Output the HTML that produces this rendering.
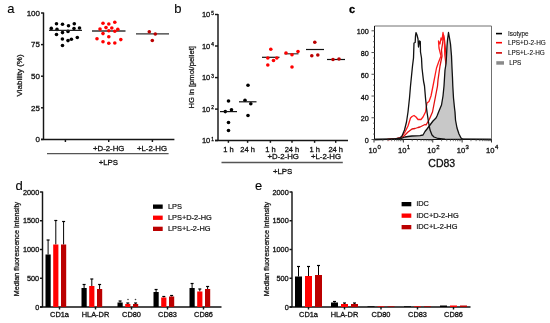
<!DOCTYPE html>
<html><head><meta charset="utf-8"><style>
html,body{margin:0;padding:0;background:#fff;width:550px;height:323px;overflow:hidden}
svg{display:block;font-family:'Liberation Sans',sans-serif}
text{filter:grayscale(1);stroke:currentColor;stroke-width:0.3px}
</style></head><body>
<svg width="550" height="323" viewBox="0 0 550 323">
<rect width="550" height="323" fill="#fff"/>
<text x="7.2" y="13" font-size="13" text-anchor="start" fill="#000" color="#000" style="stroke-width:0.1px" >a</text>
<line x1="43.5" y1="12.5" x2="43.5" y2="139.9" stroke="#151515" stroke-width="1.45"/>
<line x1="41" y1="13.0" x2="43.5" y2="13.0" stroke="#151515" stroke-width="1.45"/>
<text x="40" y="15.8" font-size="8" text-anchor="end" fill="#111" color="#111" >100</text>
<line x1="41" y1="44.6" x2="43.5" y2="44.6" stroke="#151515" stroke-width="1.45"/>
<text x="40" y="47.4" font-size="8" text-anchor="end" fill="#111" color="#111" >75</text>
<line x1="41" y1="76.2" x2="43.5" y2="76.2" stroke="#151515" stroke-width="1.45"/>
<text x="40" y="79.0" font-size="8" text-anchor="end" fill="#111" color="#111" >50</text>
<line x1="41" y1="107.8" x2="43.5" y2="107.8" stroke="#151515" stroke-width="1.45"/>
<text x="40" y="110.6" font-size="8" text-anchor="end" fill="#111" color="#111" >25</text>
<line x1="41" y1="139.4" x2="43.5" y2="139.4" stroke="#151515" stroke-width="1.45"/>
<text x="40" y="142.20000000000002" font-size="8" text-anchor="end" fill="#111" color="#111" >0</text>
<line x1="41" y1="139.4" x2="174.4" y2="139.4" stroke="#151515" stroke-width="1.45"/>
<line x1="65.4" y1="139.4" x2="65.4" y2="142" stroke="#151515" stroke-width="1.45"/>
<line x1="108.7" y1="139.4" x2="108.7" y2="142" stroke="#151515" stroke-width="1.45"/>
<line x1="152.4" y1="139.4" x2="152.4" y2="142" stroke="#151515" stroke-width="1.45"/>
<text x="108.7" y="151" font-size="7.8" text-anchor="middle" fill="#111" color="#111" >+D-2-HG</text>
<text x="152" y="151" font-size="7.8" text-anchor="middle" fill="#111" color="#111" >+L-2-HG</text>
<line x1="47" y1="153.6" x2="168.6" y2="153.6" stroke="#555" stroke-width="1.45"/>
<text x="108.3" y="165" font-size="7.8" text-anchor="middle" fill="#111" color="#111" >+LPS</text>
<text transform="translate(22.3,75.4) rotate(-90)" font-size="8" text-anchor="middle" fill="#151515" style="stroke-width:0.28px" color="#151515">Viability (%)</text>
<circle cx="51.3" cy="28.4" r="1.8" fill="#000"/>
<circle cx="56.5" cy="23.8" r="1.8" fill="#000"/>
<circle cx="62.5" cy="24.3" r="1.8" fill="#000"/>
<circle cx="68.5" cy="25.8" r="1.8" fill="#000"/>
<circle cx="74.3" cy="23.8" r="1.8" fill="#000"/>
<circle cx="79.5" cy="28" r="1.8" fill="#000"/>
<circle cx="57" cy="29.4" r="1.8" fill="#000"/>
<circle cx="74" cy="28.6" r="1.8" fill="#000"/>
<circle cx="62.5" cy="32.6" r="1.8" fill="#000"/>
<circle cx="68" cy="31.4" r="1.8" fill="#000"/>
<circle cx="56.5" cy="34.5" r="1.8" fill="#000"/>
<circle cx="62.4" cy="39" r="1.8" fill="#000"/>
<circle cx="68" cy="40.6" r="1.8" fill="#000"/>
<circle cx="71.4" cy="39.3" r="1.8" fill="#000"/>
<circle cx="77.3" cy="37.5" r="1.8" fill="#000"/>
<circle cx="62.5" cy="45.5" r="1.8" fill="#000"/>
<line x1="49" y1="30.4" x2="82" y2="30.4" stroke="#222" stroke-width="1.3"/>
<line x1="92" y1="31" x2="125.5" y2="31" stroke="#333" stroke-width="1.3"/>
<circle cx="103" cy="23.3" r="1.8" fill="#ff0000"/>
<circle cx="108.8" cy="24" r="1.8" fill="#ff0000"/>
<circle cx="114.8" cy="22.3" r="1.8" fill="#ff0000"/>
<circle cx="106" cy="27.6" r="1.8" fill="#ff0000"/>
<circle cx="111.8" cy="28" r="1.8" fill="#ff0000"/>
<circle cx="100" cy="29.1" r="1.8" fill="#ff0000"/>
<circle cx="117.8" cy="29.3" r="1.8" fill="#ff0000"/>
<circle cx="108.8" cy="30.8" r="1.8" fill="#ff0000"/>
<circle cx="114.8" cy="31.2" r="1.8" fill="#ff0000"/>
<circle cx="103" cy="33.6" r="1.8" fill="#ff0000"/>
<circle cx="108.8" cy="36.8" r="1.8" fill="#ff0000"/>
<circle cx="97" cy="38.8" r="1.8" fill="#ff0000"/>
<circle cx="120.8" cy="39.6" r="1.8" fill="#ff0000"/>
<circle cx="103" cy="41.8" r="1.8" fill="#ff0000"/>
<circle cx="108.8" cy="43.3" r="1.8" fill="#ff0000"/>
<circle cx="114.8" cy="43" r="1.8" fill="#ff0000"/>
<line x1="136" y1="33.8" x2="169" y2="33.8" stroke="#333" stroke-width="1.3"/>
<circle cx="149.3" cy="31.8" r="1.8" fill="#bb0000"/>
<circle cx="155.3" cy="34" r="1.8" fill="#bb0000"/>
<circle cx="152.3" cy="40.5" r="1.8" fill="#bb0000"/>
<text x="174.2" y="13" font-size="13" text-anchor="start" fill="#000" color="#000" style="stroke-width:0.1px" >b</text>
<line x1="218" y1="14" x2="218" y2="140.5" stroke="#151515" stroke-width="1.45"/>
<line x1="215" y1="14.5" x2="218" y2="14.5" stroke="#151515" stroke-width="1.45"/>
<text x="210.3" y="17.3" font-size="7.5" text-anchor="end" fill="#111" color="#111" >10</text>
<text x="211.2" y="14.8" font-size="4.8" text-anchor="start" fill="#111" color="#111" >5</text>
<line x1="215" y1="46" x2="218" y2="46" stroke="#151515" stroke-width="1.45"/>
<text x="210.3" y="48.8" font-size="7.5" text-anchor="end" fill="#111" color="#111" >10</text>
<text x="211.2" y="46.3" font-size="4.8" text-anchor="start" fill="#111" color="#111" >4</text>
<line x1="215" y1="77.6" x2="218" y2="77.6" stroke="#151515" stroke-width="1.45"/>
<text x="210.3" y="80.39999999999999" font-size="7.5" text-anchor="end" fill="#111" color="#111" >10</text>
<text x="211.2" y="77.89999999999999" font-size="4.8" text-anchor="start" fill="#111" color="#111" >3</text>
<line x1="215" y1="109.1" x2="218" y2="109.1" stroke="#151515" stroke-width="1.45"/>
<text x="210.3" y="111.89999999999999" font-size="7.5" text-anchor="end" fill="#111" color="#111" >10</text>
<text x="211.2" y="109.39999999999999" font-size="4.8" text-anchor="start" fill="#111" color="#111" >2</text>
<line x1="215" y1="140.5" x2="218" y2="140.5" stroke="#151515" stroke-width="1.45"/>
<text x="210.3" y="143.3" font-size="7.5" text-anchor="end" fill="#111" color="#111" >10</text>
<text x="211.2" y="140.8" font-size="4.8" text-anchor="start" fill="#111" color="#111" >1</text>
<line x1="215" y1="140.5" x2="348" y2="140.5" stroke="#151515" stroke-width="1.45"/>
<line x1="228.4" y1="140.5" x2="228.4" y2="142.8" stroke="#151515" stroke-width="1.45"/>
<line x1="247.6" y1="140.5" x2="247.6" y2="142.8" stroke="#151515" stroke-width="1.45"/>
<line x1="270.4" y1="140.5" x2="270.4" y2="142.8" stroke="#151515" stroke-width="1.45"/>
<line x1="292" y1="140.5" x2="292" y2="142.8" stroke="#151515" stroke-width="1.45"/>
<line x1="314.6" y1="140.5" x2="314.6" y2="142.8" stroke="#151515" stroke-width="1.45"/>
<line x1="335.7" y1="140.5" x2="335.7" y2="142.8" stroke="#151515" stroke-width="1.45"/>
<text x="228.4" y="151.5" font-size="7.5" text-anchor="middle" fill="#111" color="#111" >1 h</text>
<text x="247.6" y="151.5" font-size="7.5" text-anchor="middle" fill="#111" color="#111" >24 h</text>
<text x="270.4" y="151.5" font-size="7.5" text-anchor="middle" fill="#111" color="#111" >1 h</text>
<text x="292" y="151.5" font-size="7.5" text-anchor="middle" fill="#111" color="#111" >24 h</text>
<text x="314.6" y="151.5" font-size="7.5" text-anchor="middle" fill="#111" color="#111" >1 h</text>
<text x="335.7" y="151.5" font-size="7.5" text-anchor="middle" fill="#111" color="#111" >24 h</text>
<text x="283.2" y="159.2" font-size="7.8" text-anchor="middle" fill="#111" color="#111" >+D-2-HG</text>
<text x="326" y="159.2" font-size="7.8" text-anchor="middle" fill="#111" color="#111" >+L-2-HG</text>
<line x1="221.5" y1="162.4" x2="342.8" y2="162.4" stroke="#555" stroke-width="1.45"/>
<text x="282.6" y="174.2" font-size="7.8" text-anchor="middle" fill="#111" color="#111" >+LPS</text>
<text transform="translate(193.8,77.3) rotate(-90)" font-size="7.6" text-anchor="middle" fill="#151515" style="stroke-width:0.28px" color="#151515">HG in [pmol/pellet]</text>
<circle cx="228.5" cy="101" r="1.8" fill="#000"/>
<circle cx="225.3" cy="111.6" r="1.8" fill="#000"/>
<circle cx="231.5" cy="109.8" r="1.8" fill="#000"/>
<circle cx="228.5" cy="122.5" r="1.8" fill="#000"/>
<circle cx="228.5" cy="130.5" r="1.8" fill="#000"/>
<circle cx="248" cy="85.3" r="1.8" fill="#000"/>
<circle cx="245" cy="100.3" r="1.8" fill="#000"/>
<circle cx="250.8" cy="103.8" r="1.8" fill="#000"/>
<circle cx="248" cy="115.5" r="1.8" fill="#000"/>
<line x1="220" y1="111.6" x2="237" y2="111.6" stroke="#111" stroke-width="1.2"/>
<line x1="239" y1="101.8" x2="256.5" y2="101.8" stroke="#111" stroke-width="1.2"/>
<line x1="262" y1="57.3" x2="279.5" y2="57.3" stroke="#111" stroke-width="1.2"/>
<line x1="284.5" y1="53.8" x2="298.5" y2="53.8" stroke="#333" stroke-width="1.2"/>
<circle cx="270.8" cy="49.2" r="1.8" fill="#ff0000"/>
<circle cx="267.8" cy="58" r="1.8" fill="#ff0000"/>
<circle cx="276.8" cy="58" r="1.8" fill="#ff0000"/>
<circle cx="273.5" cy="60.5" r="1.8" fill="#ff0000"/>
<circle cx="267.8" cy="65" r="1.8" fill="#ff0000"/>
<circle cx="286" cy="53" r="1.8" fill="#ff0000"/>
<circle cx="292" cy="54.8" r="1.8" fill="#ff0000"/>
<circle cx="298" cy="51.5" r="1.8" fill="#ff0000"/>
<circle cx="292" cy="67" r="1.8" fill="#ff0000"/>
<line x1="306" y1="49.5" x2="324" y2="49.5" stroke="#111" stroke-width="1.2"/>
<line x1="327" y1="59.5" x2="345" y2="59.5" stroke="#111" stroke-width="1.2"/>
<circle cx="314.8" cy="42.3" r="1.8" fill="#bb0000"/>
<circle cx="311.8" cy="55.8" r="1.8" fill="#bb0000"/>
<circle cx="317.8" cy="55" r="1.8" fill="#bb0000"/>
<circle cx="333" cy="59.5" r="1.8" fill="#bb0000"/>
<circle cx="339" cy="59" r="1.8" fill="#bb0000"/>
<text x="349" y="13" font-size="11" text-anchor="start" fill="#000" color="#000" font-weight="bold">c</text>
<polyline points="388,139.5 395,139 401,138 404,136 408,132 412,129 415,128.5 418,127.5 420,127 425,124.5 426,125 429,120 432.5,112 435,99 437.5,86 438,80 440,66 442,56 441.5,50 442.5,44 443.5,35 444.5,40 445.5,50 446.5,60 448,100" fill="none" stroke="#e01010" stroke-width="1.3" stroke-linejoin="round"/>
<polyline points="387,139.5 395,139 400,138 402,136.5 405,132 408,126 410.5,118 412,116.5 414,115.5 416,117 418,119.5 421,119.5 423,117 425.5,112 427,103 429,101.5 431,96 433,86 436.5,68 439,61 441,56 439,48 438.5,41 440,44 441,38 442,40 443,32.5 444,38 444.5,45 444.8,55 445.8,63 447,80 448,100" fill="none" stroke="#ff1a1a" stroke-width="1.3" stroke-linejoin="round"/>
<polygon points="374.5,139.5 395,139 400,138.8 405,137 408,136.5 412,136 420,135.6 423,135 425,131.5 427,129 430,125 433,121 435,119 436,118 437,116 439,111 441.5,105 443,96 444,86 444.5,78 445,70 446,64 446.5,56 447,46 447.5,40 448.5,32.5 449.5,38 450.5,44 451.5,56 452,68 452.5,78 452.8,86 453.5,98 454.5,108 455,112 455.5,120 457,128 459,134 461,138 463,139.2 491.5,139.5" fill="#c8c8c8" stroke="none"/>
<polyline points="374.5,139.5 395,139 400,138.8 405,137 408,136.5 412,136 420,135.6 423,135 425,131.5 427,129 430,125 433,121 435,119 436,118 437,116 439,111 441.5,105 443,96 444,86 444.5,78 445,70 446,64 446.5,56 447,46 447.5,40 448.5,32.5 449.5,38 450.5,44 451.5,56 452,68 452.5,78 452.8,86 453.5,98 454.5,108 455,112 455.5,120 457,128 459,134 461,138 463,139.2 491.5,139.5" fill="none" stroke="#111" stroke-width="1.3" stroke-linejoin="round"/>
<polyline points="374.5,139.5 390,139.4 395,139 400,138 402,136 404.5,130 406.5,122 408,112 409.5,98 410.5,86 411,81 412.5,66 413.5,58 414,43 415.2,42.5 415.5,36 416,32.6 417,35 418,39 418.5,47 419.5,41 420.3,41.5 420.5,52 421.5,58 422,68 423.5,81 424.5,86 425.5,98 426.5,108 427,112 428.5,122 430,130 432,135 434,137 438,138.5 445,139.2 491.5,139.5" fill="none" stroke="#111" stroke-width="1.3" stroke-linejoin="round"/>
<line x1="374.5" y1="26" x2="491.5" y2="26" stroke="#707070" stroke-width="1"/>
<line x1="491.5" y1="26" x2="491.5" y2="139.5" stroke="#707070" stroke-width="1"/>
<line x1="374.5" y1="26" x2="374.5" y2="139.5" stroke="#111" stroke-width="1"/>
<line x1="374.5" y1="139.5" x2="491.5" y2="139.5" stroke="#111" stroke-width="1"/>
<line x1="371.5" y1="139.5" x2="374.5" y2="139.5" stroke="#555" stroke-width="1"/>
<text x="368.8" y="143.1" font-size="7.2" text-anchor="end" fill="#111" color="#111" >0</text>
<line x1="373" y1="134.065" x2="374.5" y2="134.065" stroke="#555" stroke-width="0.8"/>
<line x1="373" y1="128.63" x2="374.5" y2="128.63" stroke="#555" stroke-width="0.8"/>
<line x1="373" y1="123.195" x2="374.5" y2="123.195" stroke="#555" stroke-width="0.8"/>
<line x1="371.5" y1="117.76" x2="374.5" y2="117.76" stroke="#555" stroke-width="1"/>
<text x="368.8" y="121.36" font-size="7.2" text-anchor="end" fill="#111" color="#111" >20</text>
<line x1="373" y1="112.325" x2="374.5" y2="112.325" stroke="#555" stroke-width="0.8"/>
<line x1="373" y1="106.89" x2="374.5" y2="106.89" stroke="#555" stroke-width="0.8"/>
<line x1="373" y1="101.455" x2="374.5" y2="101.455" stroke="#555" stroke-width="0.8"/>
<line x1="371.5" y1="96.02000000000001" x2="374.5" y2="96.02000000000001" stroke="#555" stroke-width="1"/>
<text x="368.8" y="99.62" font-size="7.2" text-anchor="end" fill="#111" color="#111" >40</text>
<line x1="373" y1="90.58500000000001" x2="374.5" y2="90.58500000000001" stroke="#555" stroke-width="0.8"/>
<line x1="373" y1="85.15" x2="374.5" y2="85.15" stroke="#555" stroke-width="0.8"/>
<line x1="373" y1="79.715" x2="374.5" y2="79.715" stroke="#555" stroke-width="0.8"/>
<line x1="371.5" y1="74.28" x2="374.5" y2="74.28" stroke="#555" stroke-width="1"/>
<text x="368.8" y="77.88" font-size="7.2" text-anchor="end" fill="#111" color="#111" >60</text>
<line x1="373" y1="68.845" x2="374.5" y2="68.845" stroke="#555" stroke-width="0.8"/>
<line x1="373" y1="63.41" x2="374.5" y2="63.41" stroke="#555" stroke-width="0.8"/>
<line x1="373" y1="57.974999999999994" x2="374.5" y2="57.974999999999994" stroke="#555" stroke-width="0.8"/>
<line x1="371.5" y1="52.540000000000006" x2="374.5" y2="52.540000000000006" stroke="#555" stroke-width="1"/>
<text x="368.8" y="56.14000000000001" font-size="7.2" text-anchor="end" fill="#111" color="#111" >80</text>
<line x1="373" y1="47.105000000000004" x2="374.5" y2="47.105000000000004" stroke="#555" stroke-width="0.8"/>
<line x1="373" y1="41.67" x2="374.5" y2="41.67" stroke="#555" stroke-width="0.8"/>
<line x1="373" y1="36.235" x2="374.5" y2="36.235" stroke="#555" stroke-width="0.8"/>
<line x1="371.5" y1="30.799999999999997" x2="374.5" y2="30.799999999999997" stroke="#555" stroke-width="1"/>
<text x="368.8" y="34.4" font-size="7.2" text-anchor="end" fill="#111" color="#111" >100</text>
<line x1="382.84275612262945" y1="139.5" x2="382.84275612262945" y2="141.2" stroke="#555" stroke-width="0.8"/>
<line x1="388.01543685739006" y1="139.5" x2="388.01543685739006" y2="141.2" stroke="#555" stroke-width="0.8"/>
<line x1="391.6855122452589" y1="139.5" x2="391.6855122452589" y2="141.2" stroke="#555" stroke-width="0.8"/>
<line x1="394.53224387737055" y1="139.5" x2="394.53224387737055" y2="141.2" stroke="#555" stroke-width="0.8"/>
<line x1="396.8581929800195" y1="139.5" x2="396.8581929800195" y2="141.2" stroke="#555" stroke-width="0.8"/>
<line x1="398.8247549254188" y1="139.5" x2="398.8247549254188" y2="141.2" stroke="#555" stroke-width="0.8"/>
<line x1="400.52826836788836" y1="139.5" x2="400.52826836788836" y2="141.2" stroke="#555" stroke-width="0.8"/>
<line x1="402.03087371478017" y1="139.5" x2="402.03087371478017" y2="141.2" stroke="#555" stroke-width="0.8"/>
<line x1="412.21775612262945" y1="139.5" x2="412.21775612262945" y2="141.2" stroke="#555" stroke-width="0.8"/>
<line x1="417.3904368573901" y1="139.5" x2="417.3904368573901" y2="141.2" stroke="#555" stroke-width="0.8"/>
<line x1="421.0605122452589" y1="139.5" x2="421.0605122452589" y2="141.2" stroke="#555" stroke-width="0.8"/>
<line x1="423.90724387737055" y1="139.5" x2="423.90724387737055" y2="141.2" stroke="#555" stroke-width="0.8"/>
<line x1="426.2331929800195" y1="139.5" x2="426.2331929800195" y2="141.2" stroke="#555" stroke-width="0.8"/>
<line x1="428.1997549254188" y1="139.5" x2="428.1997549254188" y2="141.2" stroke="#555" stroke-width="0.8"/>
<line x1="429.90326836788836" y1="139.5" x2="429.90326836788836" y2="141.2" stroke="#555" stroke-width="0.8"/>
<line x1="431.40587371478017" y1="139.5" x2="431.40587371478017" y2="141.2" stroke="#555" stroke-width="0.8"/>
<line x1="441.59275612262945" y1="139.5" x2="441.59275612262945" y2="141.2" stroke="#555" stroke-width="0.8"/>
<line x1="446.7654368573901" y1="139.5" x2="446.7654368573901" y2="141.2" stroke="#555" stroke-width="0.8"/>
<line x1="450.4355122452589" y1="139.5" x2="450.4355122452589" y2="141.2" stroke="#555" stroke-width="0.8"/>
<line x1="453.28224387737055" y1="139.5" x2="453.28224387737055" y2="141.2" stroke="#555" stroke-width="0.8"/>
<line x1="455.60819298001957" y1="139.5" x2="455.60819298001957" y2="141.2" stroke="#555" stroke-width="0.8"/>
<line x1="457.5747549254188" y1="139.5" x2="457.5747549254188" y2="141.2" stroke="#555" stroke-width="0.8"/>
<line x1="459.27826836788836" y1="139.5" x2="459.27826836788836" y2="141.2" stroke="#555" stroke-width="0.8"/>
<line x1="460.78087371478017" y1="139.5" x2="460.78087371478017" y2="141.2" stroke="#555" stroke-width="0.8"/>
<line x1="470.96775612262945" y1="139.5" x2="470.96775612262945" y2="141.2" stroke="#555" stroke-width="0.8"/>
<line x1="476.1404368573901" y1="139.5" x2="476.1404368573901" y2="141.2" stroke="#555" stroke-width="0.8"/>
<line x1="479.8105122452589" y1="139.5" x2="479.8105122452589" y2="141.2" stroke="#555" stroke-width="0.8"/>
<line x1="482.65724387737055" y1="139.5" x2="482.65724387737055" y2="141.2" stroke="#555" stroke-width="0.8"/>
<line x1="484.98319298001957" y1="139.5" x2="484.98319298001957" y2="141.2" stroke="#555" stroke-width="0.8"/>
<line x1="486.9497549254188" y1="139.5" x2="486.9497549254188" y2="141.2" stroke="#555" stroke-width="0.8"/>
<line x1="488.65326836788836" y1="139.5" x2="488.65326836788836" y2="141.2" stroke="#555" stroke-width="0.8"/>
<line x1="490.15587371478017" y1="139.5" x2="490.15587371478017" y2="141.2" stroke="#555" stroke-width="0.8"/>
<line x1="374.0" y1="139.5" x2="374.0" y2="142.5" stroke="#333" stroke-width="1"/>
<text x="377.0" y="153" font-size="7.6" text-anchor="end" fill="#111" color="#111" >10</text>
<text x="377.4" y="149" font-size="6" text-anchor="start" fill="#111" color="#111" >0</text>
<line x1="403.375" y1="139.5" x2="403.375" y2="142.5" stroke="#333" stroke-width="1"/>
<text x="406.375" y="153" font-size="7.6" text-anchor="end" fill="#111" color="#111" >10</text>
<text x="406.775" y="149" font-size="6" text-anchor="start" fill="#111" color="#111" >1</text>
<line x1="432.75" y1="139.5" x2="432.75" y2="142.5" stroke="#333" stroke-width="1"/>
<text x="435.75" y="153" font-size="7.6" text-anchor="end" fill="#111" color="#111" >10</text>
<text x="436.15" y="149" font-size="6" text-anchor="start" fill="#111" color="#111" >2</text>
<line x1="462.125" y1="139.5" x2="462.125" y2="142.5" stroke="#333" stroke-width="1"/>
<text x="465.125" y="153" font-size="7.6" text-anchor="end" fill="#111" color="#111" >10</text>
<text x="465.525" y="149" font-size="6" text-anchor="start" fill="#111" color="#111" >3</text>
<line x1="491.5" y1="139.5" x2="491.5" y2="142.5" stroke="#333" stroke-width="1"/>
<text x="494.5" y="153" font-size="7.6" text-anchor="end" fill="#111" color="#111" >10</text>
<text x="494.9" y="149" font-size="6" text-anchor="start" fill="#111" color="#111" >4</text>
<text x="441.8" y="167" font-size="10.5" text-anchor="middle" fill="#111" color="#111" >CD83</text>
<line x1="496" y1="33.6" x2="502" y2="33.6" stroke="#000" stroke-width="1.6"/>
<text x="508" y="35.8" font-size="6.4" text-anchor="start" fill="#111" color="#111" style="stroke-width:0.1px" >Isotype</text>
<line x1="496" y1="42.7" x2="502" y2="42.7" stroke="#ff0000" stroke-width="1.6"/>
<text x="508" y="44.9" font-size="6.4" text-anchor="start" fill="#111" color="#111" style="stroke-width:0.1px" >LPS+D-2-HG</text>
<line x1="496" y1="52.9" x2="502" y2="52.9" stroke="#d00000" stroke-width="1.6"/>
<text x="508" y="55.1" font-size="6.4" text-anchor="start" fill="#111" color="#111" style="stroke-width:0.1px" >LPS+L-2-HG</text>
<rect x="496.3" y="61.2" width="7.7" height="3.5" fill="#8a8a8a"/>
<text x="509.2" y="65.1" font-size="6.4" text-anchor="start" fill="#111" color="#111" style="stroke-width:0.1px" >LPS</text>
<text x="15.5" y="189.5" font-size="13" text-anchor="start" fill="#000" color="#000" style="stroke-width:0.1px" >d</text>
<line x1="42.5" y1="191.5" x2="42.5" y2="307" stroke="#151515" stroke-width="1.45"/>
<line x1="40.0" y1="307.0" x2="42.5" y2="307.0" stroke="#151515" stroke-width="1.45"/>
<text x="39.2" y="309.7" font-size="7.3" text-anchor="end" fill="#111" color="#111" >0</text>
<line x1="40.0" y1="278.25" x2="42.5" y2="278.25" stroke="#151515" stroke-width="1.45"/>
<text x="39.2" y="280.95" font-size="7.3" text-anchor="end" fill="#111" color="#111" >500</text>
<line x1="40.0" y1="249.5" x2="42.5" y2="249.5" stroke="#151515" stroke-width="1.45"/>
<text x="39.2" y="252.2" font-size="7.3" text-anchor="end" fill="#111" color="#111" >1000</text>
<line x1="40.0" y1="220.75" x2="42.5" y2="220.75" stroke="#151515" stroke-width="1.45"/>
<text x="39.2" y="223.45" font-size="7.3" text-anchor="end" fill="#111" color="#111" >1500</text>
<line x1="40.0" y1="192.0" x2="42.5" y2="192.0" stroke="#151515" stroke-width="1.45"/>
<text x="39.2" y="194.7" font-size="7.3" text-anchor="end" fill="#111" color="#111" >2000</text>
<line x1="40.0" y1="307" x2="221.5" y2="307" stroke="#111" stroke-width="1.3"/>
<line x1="59.5" y1="307" x2="59.5" y2="309.5" stroke="#151515" stroke-width="1.45"/>
<text x="59.5" y="317.3" font-size="7.4" text-anchor="middle" fill="#111" color="#111" >CD1a</text>
<line x1="48.1" y1="240" x2="48.1" y2="254.5" stroke="#000" stroke-width="1"/>
<line x1="46.6" y1="240" x2="49.6" y2="240" stroke="#000" stroke-width="1.2"/>
<rect x="45.5" y="254.5" width="5.2" height="52.5" fill="#000"/>
<line x1="55.800000000000004" y1="220.5" x2="55.800000000000004" y2="244.5" stroke="#000" stroke-width="1"/>
<line x1="54.300000000000004" y1="220.5" x2="57.300000000000004" y2="220.5" stroke="#000" stroke-width="1.2"/>
<rect x="53.2" y="244.5" width="5.2" height="62.5" fill="#ff0000"/>
<line x1="63.6" y1="221.5" x2="63.6" y2="244.5" stroke="#000" stroke-width="1"/>
<line x1="62.1" y1="221.5" x2="65.1" y2="221.5" stroke="#000" stroke-width="1.2"/>
<rect x="61.0" y="244.5" width="5.2" height="62.5" fill="#bb0000"/>
<line x1="95.5" y1="307" x2="95.5" y2="309.5" stroke="#151515" stroke-width="1.45"/>
<text x="95.5" y="317.3" font-size="7.4" text-anchor="middle" fill="#111" color="#111" >HLA-DR</text>
<line x1="84.1" y1="284.5" x2="84.1" y2="288" stroke="#000" stroke-width="1"/>
<line x1="82.6" y1="284.5" x2="85.6" y2="284.5" stroke="#000" stroke-width="1.2"/>
<rect x="81.5" y="288" width="5.2" height="19" fill="#000"/>
<line x1="91.8" y1="279" x2="91.8" y2="286" stroke="#000" stroke-width="1"/>
<line x1="90.3" y1="279" x2="93.3" y2="279" stroke="#000" stroke-width="1.2"/>
<rect x="89.2" y="286" width="5.2" height="21" fill="#ff0000"/>
<line x1="99.6" y1="284.5" x2="99.6" y2="289" stroke="#000" stroke-width="1"/>
<line x1="98.1" y1="284.5" x2="101.1" y2="284.5" stroke="#000" stroke-width="1.2"/>
<rect x="97.0" y="289" width="5.2" height="18" fill="#bb0000"/>
<line x1="131.5" y1="307" x2="131.5" y2="309.5" stroke="#151515" stroke-width="1.45"/>
<text x="131.5" y="317.3" font-size="7.4" text-anchor="middle" fill="#111" color="#111" >CD80</text>
<line x1="120.1" y1="301" x2="120.1" y2="302.5" stroke="#000" stroke-width="1"/>
<line x1="118.6" y1="301" x2="121.6" y2="301" stroke="#000" stroke-width="1.2"/>
<rect x="117.5" y="302.5" width="5.2" height="4.5" fill="#000"/>
<line x1="127.8" y1="303" x2="127.8" y2="304" stroke="#000" stroke-width="1"/>
<line x1="126.3" y1="303" x2="129.3" y2="303" stroke="#000" stroke-width="1.2"/>
<rect x="125.2" y="304" width="5.2" height="3" fill="#ff0000"/>
<line x1="135.6" y1="303" x2="135.6" y2="304" stroke="#000" stroke-width="1"/>
<line x1="134.1" y1="303" x2="137.1" y2="303" stroke="#000" stroke-width="1.2"/>
<rect x="133.0" y="304" width="5.2" height="3" fill="#bb0000"/>
<line x1="167.5" y1="307" x2="167.5" y2="309.5" stroke="#151515" stroke-width="1.45"/>
<text x="167.5" y="317.3" font-size="7.4" text-anchor="middle" fill="#111" color="#111" >CD83</text>
<line x1="156.1" y1="289.5" x2="156.1" y2="292" stroke="#000" stroke-width="1"/>
<line x1="154.6" y1="289.5" x2="157.6" y2="289.5" stroke="#000" stroke-width="1.2"/>
<rect x="153.5" y="292" width="5.2" height="15" fill="#000"/>
<line x1="163.79999999999998" y1="296.5" x2="163.79999999999998" y2="297.5" stroke="#000" stroke-width="1"/>
<line x1="162.29999999999998" y1="296.5" x2="165.29999999999998" y2="296.5" stroke="#000" stroke-width="1.2"/>
<rect x="161.2" y="297.5" width="5.2" height="9.5" fill="#ff0000"/>
<line x1="171.6" y1="295.5" x2="171.6" y2="296.5" stroke="#000" stroke-width="1"/>
<line x1="170.1" y1="295.5" x2="173.1" y2="295.5" stroke="#000" stroke-width="1.2"/>
<rect x="169.0" y="296.5" width="5.2" height="10.5" fill="#bb0000"/>
<line x1="203.5" y1="307" x2="203.5" y2="309.5" stroke="#151515" stroke-width="1.45"/>
<text x="203.5" y="317.3" font-size="7.4" text-anchor="middle" fill="#111" color="#111" >CD86</text>
<line x1="192.1" y1="283.5" x2="192.1" y2="288" stroke="#000" stroke-width="1"/>
<line x1="190.6" y1="283.5" x2="193.6" y2="283.5" stroke="#000" stroke-width="1.2"/>
<rect x="189.5" y="288" width="5.2" height="19" fill="#000"/>
<line x1="199.79999999999998" y1="289" x2="199.79999999999998" y2="291.5" stroke="#000" stroke-width="1"/>
<line x1="198.29999999999998" y1="289" x2="201.29999999999998" y2="289" stroke="#000" stroke-width="1.2"/>
<rect x="197.2" y="291.5" width="5.2" height="15.5" fill="#ff0000"/>
<line x1="207.6" y1="286.5" x2="207.6" y2="289" stroke="#000" stroke-width="1"/>
<line x1="206.1" y1="286.5" x2="209.1" y2="286.5" stroke="#000" stroke-width="1.2"/>
<rect x="205.0" y="289" width="5.2" height="18" fill="#bb0000"/>
<text transform="translate(19.3,249) rotate(-90)" font-size="7.17" text-anchor="middle" fill="#151515" style="stroke-width:0.28px" color="#151515">Median fluorescence intensity</text>
<rect x="153" y="204.5" width="9.7" height="4.3" fill="#000"/>
<text x="168" y="208.9" font-size="7.4" text-anchor="start" fill="#111" color="#111" style="stroke-width:0.2px" >LPS</text>
<rect x="153" y="215.6" width="9.7" height="4.3" fill="#ff0000"/>
<text x="168" y="220.0" font-size="7.4" text-anchor="start" fill="#111" color="#111" style="stroke-width:0.2px" >LPS+D-2-HG</text>
<rect x="153" y="226.7" width="9.7" height="4.3" fill="#bb0000"/>
<text x="168" y="231.1" font-size="7.4" text-anchor="start" fill="#111" color="#111" style="stroke-width:0.2px" >LPS+L-2-HG</text>
<circle cx="128" cy="299.5" r="0.8" fill="#444"/>
<circle cx="135.5" cy="299.5" r="0.8" fill="#444"/>
<text x="255" y="189.5" font-size="13" text-anchor="start" fill="#000" color="#000" style="stroke-width:0.1px" >e</text>
<line x1="292" y1="191.5" x2="292" y2="307" stroke="#151515" stroke-width="1.45"/>
<line x1="289.5" y1="307.0" x2="292" y2="307.0" stroke="#151515" stroke-width="1.45"/>
<text x="288.7" y="309.7" font-size="7.3" text-anchor="end" fill="#111" color="#111" >0</text>
<line x1="289.5" y1="278.25" x2="292" y2="278.25" stroke="#151515" stroke-width="1.45"/>
<text x="288.7" y="280.95" font-size="7.3" text-anchor="end" fill="#111" color="#111" >500</text>
<line x1="289.5" y1="249.5" x2="292" y2="249.5" stroke="#151515" stroke-width="1.45"/>
<text x="288.7" y="252.2" font-size="7.3" text-anchor="end" fill="#111" color="#111" >1000</text>
<line x1="289.5" y1="220.75" x2="292" y2="220.75" stroke="#151515" stroke-width="1.45"/>
<text x="288.7" y="223.45" font-size="7.3" text-anchor="end" fill="#111" color="#111" >1500</text>
<line x1="289.5" y1="192.0" x2="292" y2="192.0" stroke="#151515" stroke-width="1.45"/>
<text x="288.7" y="194.7" font-size="7.3" text-anchor="end" fill="#111" color="#111" >2000</text>
<line x1="289.5" y1="307" x2="470.5" y2="307" stroke="#111" stroke-width="1.3"/>
<line x1="308.5" y1="307" x2="308.5" y2="309.5" stroke="#151515" stroke-width="1.45"/>
<text x="308.5" y="317.3" font-size="7.4" text-anchor="middle" fill="#111" color="#111" >CD1a</text>
<line x1="298.5" y1="266.5" x2="298.5" y2="276.5" stroke="#000" stroke-width="1"/>
<line x1="297.0" y1="266.5" x2="300.0" y2="266.5" stroke="#000" stroke-width="1.2"/>
<rect x="295.0" y="276.5" width="7" height="30.5" fill="#000"/>
<line x1="308.5" y1="266.5" x2="308.5" y2="276" stroke="#000" stroke-width="1"/>
<line x1="307.0" y1="266.5" x2="310.0" y2="266.5" stroke="#000" stroke-width="1.2"/>
<rect x="305.0" y="276" width="7" height="31" fill="#ff0000"/>
<line x1="318.5" y1="265.5" x2="318.5" y2="275" stroke="#000" stroke-width="1"/>
<line x1="317.0" y1="265.5" x2="320.0" y2="265.5" stroke="#000" stroke-width="1.2"/>
<rect x="315.0" y="275" width="7" height="32" fill="#bb0000"/>
<line x1="344.5" y1="307" x2="344.5" y2="309.5" stroke="#151515" stroke-width="1.45"/>
<text x="344.5" y="317.3" font-size="7.4" text-anchor="middle" fill="#111" color="#111" >HLA-DR</text>
<line x1="334.5" y1="301.5" x2="334.5" y2="302.5" stroke="#000" stroke-width="1"/>
<line x1="333.0" y1="301.5" x2="336.0" y2="301.5" stroke="#000" stroke-width="1.2"/>
<rect x="331.0" y="302.5" width="7" height="4.5" fill="#000"/>
<line x1="344.5" y1="303" x2="344.5" y2="304" stroke="#000" stroke-width="1"/>
<line x1="343.0" y1="303" x2="346.0" y2="303" stroke="#000" stroke-width="1.2"/>
<rect x="341.0" y="304" width="7" height="3" fill="#ff0000"/>
<line x1="354.5" y1="303" x2="354.5" y2="304" stroke="#000" stroke-width="1"/>
<line x1="353.0" y1="303" x2="356.0" y2="303" stroke="#000" stroke-width="1.2"/>
<rect x="351.0" y="304" width="7" height="3" fill="#bb0000"/>
<line x1="381" y1="307" x2="381" y2="309.5" stroke="#151515" stroke-width="1.45"/>
<text x="381" y="317.3" font-size="7.4" text-anchor="middle" fill="#111" color="#111" >CD80</text>
<rect x="367.5" y="306.3" width="7" height="0.6999999999999886" fill="#000"/>
<rect x="377.5" y="306.3" width="7" height="0.6999999999999886" fill="#ff0000"/>
<rect x="387.5" y="306.3" width="7" height="0.6999999999999886" fill="#bb0000"/>
<line x1="417.5" y1="307" x2="417.5" y2="309.5" stroke="#151515" stroke-width="1.45"/>
<text x="417.5" y="317.3" font-size="7.4" text-anchor="middle" fill="#111" color="#111" >CD83</text>
<rect x="404.0" y="306.3" width="7" height="0.6999999999999886" fill="#000"/>
<rect x="414.0" y="306.3" width="7" height="0.6999999999999886" fill="#ff0000"/>
<rect x="424.0" y="306.3" width="7" height="0.6999999999999886" fill="#bb0000"/>
<line x1="453.5" y1="307" x2="453.5" y2="309.5" stroke="#151515" stroke-width="1.45"/>
<text x="453.5" y="317.3" font-size="7.4" text-anchor="middle" fill="#111" color="#111" >CD86</text>
<rect x="440.0" y="305.5" width="7" height="1.5" fill="#000"/>
<rect x="450.0" y="305.5" width="7" height="1.5" fill="#ff0000"/>
<rect x="460.0" y="305.5" width="7" height="1.5" fill="#bb0000"/>
<text transform="translate(269,249) rotate(-90)" font-size="7.17" text-anchor="middle" fill="#151515" style="stroke-width:0.28px" color="#151515">Median fluorescence intensity</text>
<rect x="401.6" y="202.0" width="9.7" height="4.3" fill="#000"/>
<text x="416.6" y="206.4" font-size="7.4" text-anchor="start" fill="#111" color="#111" style="stroke-width:0.2px" >iDC</text>
<rect x="401.6" y="213.5" width="9.7" height="4.3" fill="#ff0000"/>
<text x="416.6" y="217.9" font-size="7.4" text-anchor="start" fill="#111" color="#111" style="stroke-width:0.2px" >iDC+D-2-HG</text>
<rect x="401.6" y="225.0" width="9.7" height="4.3" fill="#bb0000"/>
<text x="416.6" y="229.4" font-size="7.4" text-anchor="start" fill="#111" color="#111" style="stroke-width:0.2px" >iDC+L-2-HG</text>
</svg></body></html>
